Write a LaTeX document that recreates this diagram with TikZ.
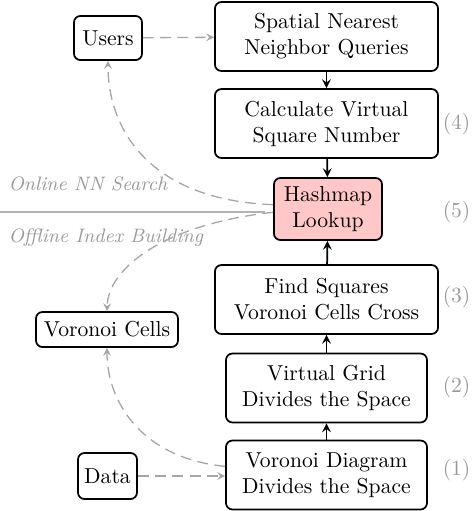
\documentclass[tikz,border=0pt]{standalone}
\usepackage{tikz}

\begin{document}
\begin{tikzpicture}[x=0.4626pt,y=-0.4626pt,
  box/.style={draw,thick,rounded corners=3pt,align=center,inner sep=0pt},
  wide/.style={box,minimum width=103.2pt,minimum height=31.9pt},
  mid/.style={box,minimum width=93pt,minimum height=31.9pt},
  flow/.style={thick,-stealth},
  side/.style={semithick,gray!70,dashed,dash pattern=on 5pt off 3pt,-stealth},
  stepno/.style={gray!80,anchor=east,inner sep=1pt},
  phase/.style={gray!80,font=\small\itshape,anchor=west}]
\useasboundingbox (0,0) rectangle (474,511);

\node[box,minimum width=31.5pt,minimum height=20.4pt] (users) at (108,38) {Users};
\node[wide] (snn) at (326.5,36.5) {Spatial Nearest\\Neighbor Queries};
\node[wide] (calc) at (326.5,123.5) {Calculate Virtual\\Square Number};
\node[box,fill=red!22,minimum width=50pt,minimum height=28.7pt] (hash) at (328,209) {Hashmap\\Lookup};
\node[wide] (find) at (326.5,299.5) {Find Squares\\Voronoi Cells Cross};
\node[box,minimum width=65.7pt,minimum height=16.2pt] (cells) at (107,329.5) {Voronoi Cells};
\node[mid] (grid) at (326.5,388) {Virtual Grid\\Divides the Space};
\node[mid] (vd) at (326.5,475) {Voronoi Diagram\\Divides the Space};
\node[box,minimum width=27.3pt,minimum height=21.3pt] (data) at (107.5,476) {Data};

\node[stepno] (n4) at (473,124) {(4)};
\node[stepno] (n5) at (473,212) {(5)};
\node[stepno] (n3) at (473,297) {(3)};
\node[stepno] (n2) at (473,387) {(2)};
\node[stepno] (n1) at (473,470) {(1)};

\draw[gray!60,semithick] (0,212) -- (265,212);
\node[phase] (online) at (1,184) {Online NN Search};
\node[phase] (offline) at (1,238) {Offline Index Building};

\draw[flow] (snn) -- (calc);
\draw[flow] (calc) -- (hash);
\draw[flow] (find) -- (hash);
\draw[flow] (grid) -- (find);
\draw[flow] (vd) -- (grid);

\draw[side] (users) -- (snn);
\draw[side] (data) -- (vd.west |- data);
\draw[side] ([yshift=2pt]hash.west) .. controls (150,200) and (108,130) .. (users.south);
\draw[side] ([yshift=-1.5pt]hash.west) .. controls (160,225) and (108,270) .. (cells.north);
\draw[side] ([yshift=4pt]vd.west) .. controls (140,458) and (107,400) .. (cells.south);
\end{tikzpicture}
\end{document}
